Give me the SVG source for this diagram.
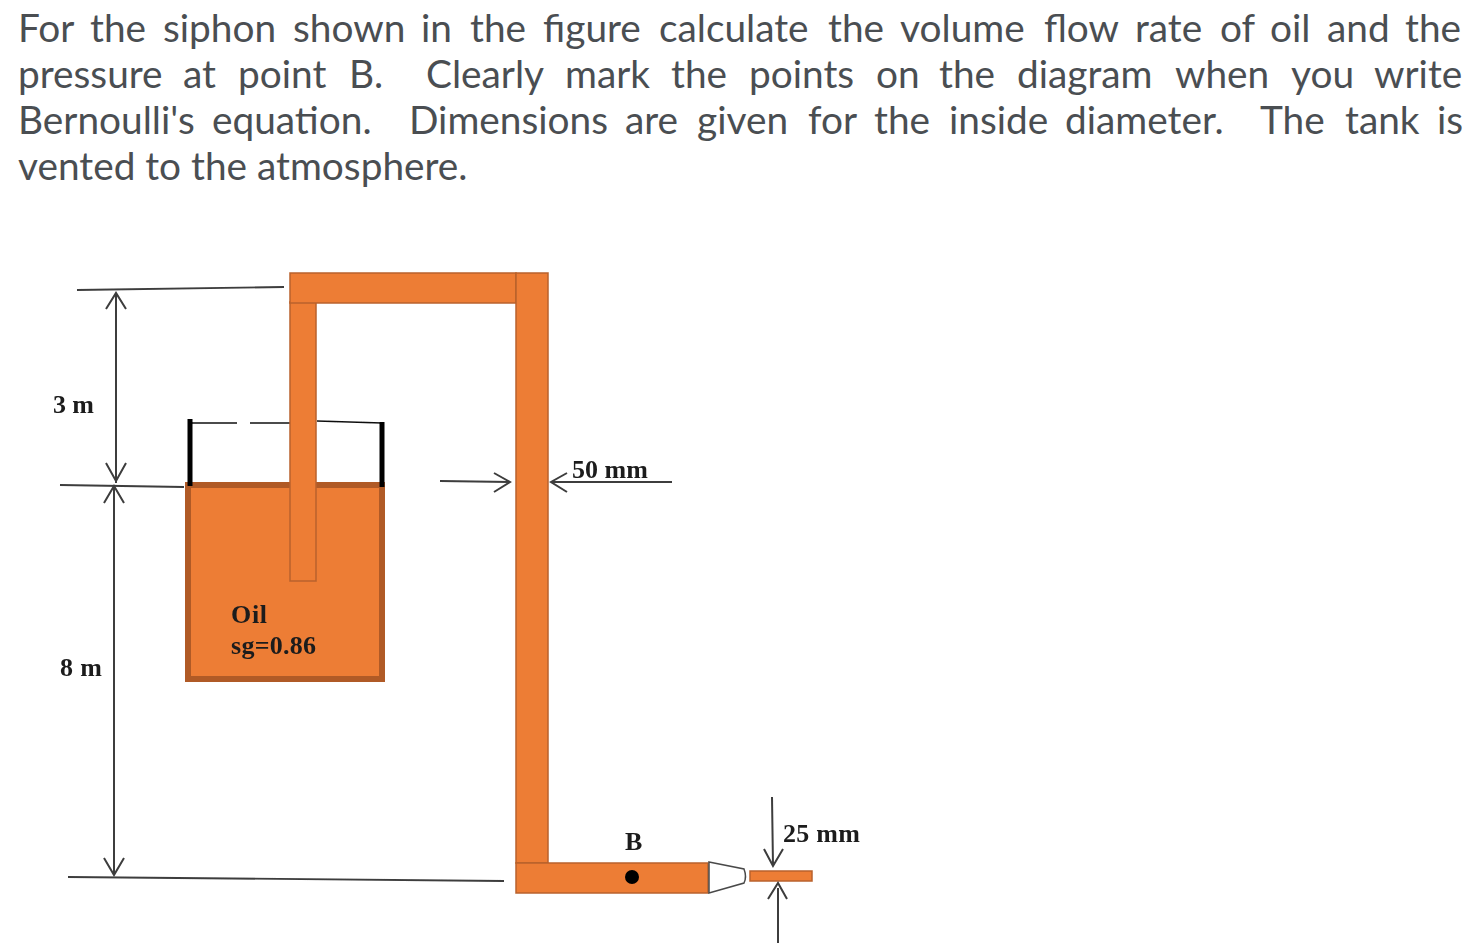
<svg xmlns="http://www.w3.org/2000/svg" width="1482" height="952" viewBox="0 0 1482 952">
<defs>
<style>
.q{font-family:Lato,"Liberation Sans",sans-serif;font-size:38.8px;fill:#4a4e52}
.l{font-family:"Liberation Serif","Times New Roman",serif;font-weight:bold;font-size:26px;fill:#1c1c1c}
.p{fill:#ed7d36;stroke:#b9622b;stroke-width:1.5}
.d{fill:none;stroke:#3c3c3c;stroke-width:1.8}
.a{fill:none;stroke:#3c3c3c;stroke-width:2}
.w{fill:none;stroke:#111;stroke-width:1.6}
</style>
<filter id="soft" x="-5%" y="-5%" width="110%" height="110%"><feGaussianBlur stdDeviation="0.7"/></filter>
</defs>
<rect width="1482" height="952" fill="#fff"/>
<g id="question">
<text class="q" y="42"><tspan x="18">For</tspan> <tspan x="90">the</tspan> <tspan x="163">siphon</tspan> <tspan x="293">shown</tspan> <tspan x="421">in</tspan> <tspan x="470">the</tspan> <tspan x="543">figure</tspan> <tspan x="659">calculate</tspan> <tspan x="828">the</tspan> <tspan x="900">volume</tspan> <tspan x="1044">flow</tspan> <tspan x="1135">rate</tspan> <tspan x="1220">of</tspan> <tspan x="1270">oil</tspan> <tspan x="1327">and</tspan> <tspan x="1405">the</tspan></text>
<text class="q" y="88"><tspan x="18">pressure</tspan> <tspan x="183">at</tspan> <tspan x="238">point</tspan> <tspan x="349">B.</tspan> <tspan x="426">Clearly</tspan> <tspan x="565">mark</tspan> <tspan x="671">the</tspan> <tspan x="749">points</tspan> <tspan x="876">on</tspan> <tspan x="939">the</tspan> <tspan x="1017">diagram</tspan> <tspan x="1175">when</tspan> <tspan x="1291">you</tspan> <tspan x="1374">write</tspan></text>
<text class="q" y="134"><tspan x="18">Bernoulli's</tspan> <tspan x="212">equation.</tspan> <tspan x="409">Dimensions</tspan> <tspan x="625">are</tspan> <tspan x="697">given</tspan> <tspan x="808">for</tspan> <tspan x="874">the</tspan> <tspan x="949">inside</tspan> <tspan x="1065">diameter.</tspan> <tspan x="1260">The</tspan> <tspan x="1345">tank</tspan> <tspan x="1437">is</tspan></text>
<text class="q" x="18" y="180">vented to the atmosphere.</text>
</g>
<g id="tank" filter="url(#soft)">
<rect x="186" y="482" width="198" height="200" fill="#ed7d36"/>
<rect x="188" y="485" width="194" height="194" fill="none" stroke="#b05a26" stroke-width="6"/>
<path class="w" d="M190 423H237M250 423H290M317 421L382 423"/>
<path d="M190 419V486M382 422V487" fill="none" stroke="#000" stroke-width="5"/>
<text class="l" x="231" y="623" textLength="36">Oil</text>
<text class="l" x="231" y="654" textLength="85">sg=0.86</text>
</g>
<g id="siphon" filter="url(#soft)">
<rect class="p" x="290" y="302" width="26" height="279"/>
<rect class="p" x="290" y="273" width="226" height="30"/>
<rect class="p" x="516" y="273" width="32" height="590"/>
<rect class="p" x="516" y="863" width="192" height="30"/>
<path d="M709 862L744 869Q747 877 744 883L709 893Z" fill="#fff" stroke="#4a4a4a" stroke-width="1.5"/>
<rect class="p" x="750" y="871" width="62" height="10"/>
</g>
<g id="point-b" filter="url(#soft)">
<circle cx="632" cy="877" r="7" fill="#000"/>
<text class="l" x="625" y="850" textLength="18">B</text>
</g>
<g id="connectors" filter="url(#soft)">
<path class="d" d="M77 290L284 287M60 485L184 487M68 877L504 881"/>
<path class="a" d="M116 293V483M114 486V875"/>
<path class="a" d="M106 309L116 293L126 309M106 463L116 481L126 463M104 503L114 486L124 503M104 858L114 875L124 858"/>
<path class="a" d="M440 481L510 482M494 473L510 482L494 492"/>
<path class="a" d="M551 482H672M567 473L551 482L567 492"/>
<path class="a" d="M772 797L773 866M764 849L773 866L783 849"/>
<path class="a" d="M778 888L778 943M768 899L778 883L787 899"/>
</g>
<g id="labels" filter="url(#soft)">
<text class="l" x="53" y="413" textLength="41">3 m</text>
<text class="l" x="60" y="676" textLength="42">8 m</text>
<text class="l" x="572" y="478" textLength="76">50 mm</text>
<text class="l" x="783" y="842" textLength="77">25 mm</text>
</g>
</svg>
